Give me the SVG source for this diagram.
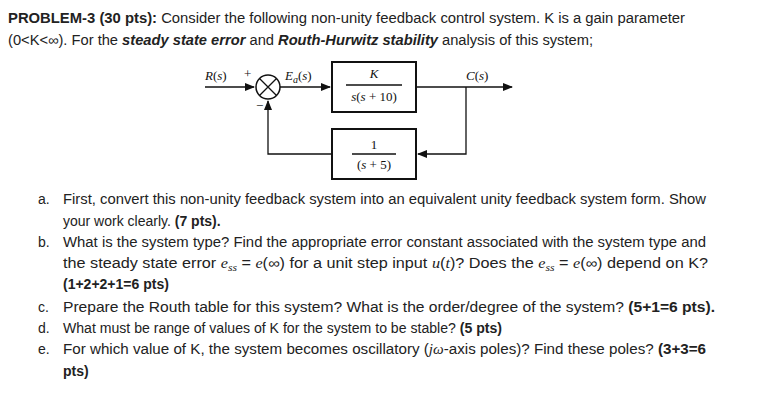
<svg xmlns="http://www.w3.org/2000/svg" width="776" height="410" viewBox="0 0 776 410">
<style>
.t{font-family:"Liberation Sans",Arial,sans-serif;font-size:14px;fill:#222}
.b{font-weight:bold}
.bi{font-weight:bold;font-style:italic}
.m{font-family:"Liberation Serif","Times New Roman",serif;font-style:italic}
.d{font-family:"Liberation Serif","Times New Roman",serif;font-size:13px;fill:#111}
.i{font-style:italic}
.ln{stroke:#111;stroke-width:1.3;fill:none}
.bx{stroke:#111;stroke-width:2;fill:#fff}
</style>
<defs><marker id="a" markerWidth="10" markerHeight="8" refX="9" refY="4" orient="auto" markerUnits="userSpaceOnUse"><path d="M0,0L10,4L0,8z" fill="#111"/></marker></defs>
<rect width="776" height="410" fill="#fff"/>
<text class="t" x="8" y="23" textLength="677" lengthAdjust="spacingAndGlyphs"><tspan class="b">PROBLEM-3 (30 pts):</tspan> Consider the following non-unity feedback control system. K is a gain parameter</text>
<text class="t" x="8" y="45" textLength="585" lengthAdjust="spacingAndGlyphs">(0&lt;K&lt;∞). For the <tspan class="bi">steady state error</tspan> and <tspan class="bi">Routh-Hurwitz stability</tspan> analysis of this system;</text>
<g id="connectors">
<path class="ln" d="M205,87H254" marker-end="url(#a)"/>
<path class="ln" d="M280,87H330" marker-end="url(#a)"/>
<path class="ln" d="M416,87H512" marker-end="url(#a)"/>
<path class="ln" d="M466,87V154H418" marker-end="url(#a)"/>
<path class="ln" d="M332,154H268V101" marker-end="url(#a)"/>
</g>
<g id="sum">
<circle cx="268" cy="87" r="12" fill="#fff" stroke="#111" stroke-width="1.5"/>
<path class="ln" d="M259.5,78.5L276.5,95.5M276.5,78.5L259.5,95.5"/>
</g>
<g id="labels">
<text class="d" x="205" y="80"><tspan class="i">R</tspan>(<tspan class="i">s</tspan>)</text>
<text class="d" x="244" y="78">+</text>
<text class="d" x="256" y="110">−</text>
<text class="d" x="285" y="80"><tspan class="i">E</tspan><tspan class="i" font-size="10" dy="3">a</tspan><tspan dy="-3">(</tspan><tspan class="i">s</tspan>)</text>
<text class="d" x="466" y="80"><tspan class="i">C</tspan>(<tspan class="i">s</tspan>)</text>
</g>
<g id="forward">
<rect class="bx" x="332" y="62" width="84" height="50"/>
<text class="d i" x="374" y="78" text-anchor="middle" font-size="10">K</text>
<line class="ln" x1="346" y1="85" x2="402" y2="85" stroke-width="0.8"/>
<text class="d" x="374" y="101" text-anchor="middle"><tspan class="i">s</tspan>(<tspan class="i">s</tspan> + 10)</text>
</g>
<g id="feedback">
<rect class="bx" x="332" y="129" width="84" height="50"/>
<text class="d" x="374" y="149" text-anchor="middle">1</text>
<line class="ln" x1="352" y1="154" x2="396" y2="154" stroke-width="0.8"/>
<text class="d" x="374" y="169" text-anchor="middle">(<tspan class="i">s</tspan> + 5)</text>
</g>
<g class="t">
<text x="38" y="204">a.</text>
<text x="63" y="204" textLength="643" lengthAdjust="spacingAndGlyphs">First, convert this non-unity feedback system into an equivalent unity feedback system form. Show</text>
<text x="63" y="226">your work clearly. <tspan class="b">(7 pts).</tspan></text>
<text x="38" y="247">b.</text>
<text x="63" y="247" textLength="643" lengthAdjust="spacingAndGlyphs">What is the system type? Find the appropriate error constant associated with the system type and</text>
<text x="63" y="268" textLength="645" lengthAdjust="spacingAndGlyphs">the steady state error <tspan class="m">e</tspan><tspan class="m" font-size="10" dy="3">ss</tspan><tspan dy="-3"> = </tspan><tspan class="m">e</tspan>(∞) for a unit step input <tspan class="m">u</tspan>(<tspan class="m">t</tspan>)? Does the  <tspan class="m">e</tspan><tspan class="m" font-size="10" dy="3">ss</tspan><tspan dy="-3"> = </tspan><tspan class="m">e</tspan>(∞) depend on K?</text>
<text x="63" y="289" class="b">(1+2+2+1=6 pts)</text>
<text x="38" y="312">c.</text>
<text x="63" y="312" textLength="652" lengthAdjust="spacingAndGlyphs">Prepare the Routh table for this system? What is the order/degree of the system? <tspan class="b">(5+1=6 pts).</tspan></text>
<text x="38" y="333">d.</text>
<text x="63" y="333" textLength="439" lengthAdjust="spacingAndGlyphs">What must be range of values of K for the system to be stable? <tspan class="b">(5 pts)</tspan></text>
<text x="38" y="354">e.</text>
<text x="63" y="354" textLength="643" lengthAdjust="spacingAndGlyphs">For which value of K, the system becomes oscillatory (<tspan class="m">jω</tspan>-axis poles)? Find these poles? <tspan class="b">(3+3=6</tspan></text>
<text x="63" y="376" class="b">pts)</text>
</g>
</svg>
